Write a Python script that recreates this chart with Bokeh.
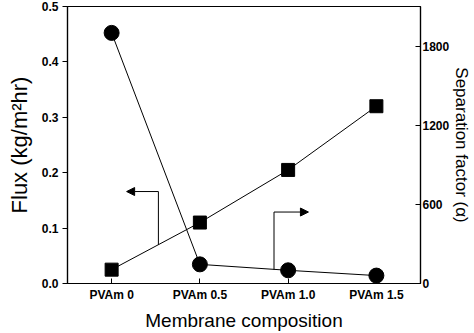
from bokeh.plotting import figure
from bokeh.models import (Range1d, LinearAxis, FixedTicker, Arrow, NormalHead,
                          NumeralTickFormatter)
from bokeh.embed import file_html
from bokeh.resources import INLINE

categories = ["PVAm 0", "PVAm 0.5", "PVAm 1.0", "PVAm 1.5"]
flux = [0.025, 0.11, 0.205, 0.32]
sep_factor = [1900, 145, 100, 60]
flux_ticks = [0.0, 0.1, 0.2, 0.3, 0.4, 0.5]
sep_ticks = [0, 600, 1200, 1800]

# annotation arrows (data coordinates: x in category index, y in flux units)
left_arrow = dict(x=0.53, y0=0.07, y1=0.166, tip=0.17)
right_arrow = dict(x=1.84, y0=0.025, y1=0.129, tip=2.23)

xs = list(range(len(categories)))
SEP_MAX = 2100.0
FONT = "Liberation Sans"

p = figure(width=474, height=333, output_backend="svg", toolbar_location=None,
           x_range=Range1d(-0.5, 3.5), y_range=Range1d(0, 0.5),
           min_border_left=67, min_border_right=53, min_border_top=6,
           min_border_bottom=50, y_axis_location="left")
p.extra_y_ranges = {"sep": Range1d(0, SEP_MAX)}
p.grid.visible = False
p.outline_line_color = "black"
p.outline_line_width = 1.2
p.background_fill_color = "white"
p.border_fill_color = "white"

# bottom axis
xa = p.xaxis[0]
xa.ticker = FixedTicker(ticks=xs)
xa.major_label_overrides = {i: c for i, c in enumerate(categories)}
xa.major_tick_in = 5
xa.major_tick_out = 0
xa.minor_tick_line_color = None
xa.axis_label = "Membrane composition"
xa.axis_label_text_font = FONT
xa.axis_label_text_font_style = "normal"
xa.axis_label_text_font_size = "19px"
xa.axis_label_standoff = 5
xa.major_label_text_font = FONT
xa.major_label_text_font_style = "bold"
xa.major_label_text_font_size = "12px"
xa.major_label_standoff = 4

# left axis
ya = p.yaxis[0]
ya.ticker = FixedTicker(ticks=flux_ticks)
ya.formatter = NumeralTickFormatter(format="0.0")
ya.major_tick_in = 0
ya.major_tick_out = 5
ya.minor_tick_line_color = None
ya.axis_label = "Flux (kg/m²hr)"
ya.axis_label_text_font = FONT
ya.axis_label_text_font_style = "normal"
ya.axis_label_text_font_size = "22px"
ya.axis_label_standoff = 7
ya.major_label_text_font = FONT
ya.major_label_text_font_style = "bold"
ya.major_label_text_font_size = "12px"
ya.major_label_standoff = 4

# right axis
ra = LinearAxis(y_range_name="sep", ticker=FixedTicker(ticks=sep_ticks))
ra.major_tick_in = 5
ra.major_tick_out = 0
ra.minor_tick_line_color = None
ra.axis_label = "Separation factor (α)"
ra.axis_label_text_font = FONT
ra.axis_label_text_font_style = "normal"
ra.axis_label_text_font_size = "17px"
ra.axis_label_standoff = 0
ra.major_label_text_font = FONT
ra.major_label_text_font_style = "bold"
ra.major_label_text_font_size = "12px"
ra.major_label_standoff = 2
p.add_layout(ra, "right")

for ax in (xa, ya, ra):
    ax.axis_line_color = "black"
    ax.axis_line_width = 1.2
    ax.major_tick_line_color = "black"
    ax.major_label_text_color = "black"
    ax.axis_label_text_color = "black"

# flux series (squares)
p.line(xs, flux, line_color="black", line_width=1)
p.scatter(xs, flux, marker="square", size=13, fill_color="black", line_color="black")

# separation factor series (circles)
p.line(xs, sep_factor, y_range_name="sep", line_color="black", line_width=1)
p.scatter(xs, sep_factor, y_range_name="sep", marker="circle", size=15,
          fill_color="black", line_color="black")

# arrows
for a in (left_arrow, right_arrow):
    p.segment(x0=[a["x"]], y0=[a["y0"]], x1=[a["x"]], y1=[a["y1"]],
              line_color="black", line_width=1)
    p.add_layout(Arrow(end=NormalHead(size=8, fill_color="black", line_color="black"),
                       x_start=a["x"], y_start=a["y1"], x_end=a["tip"], y_end=a["y1"],
                       line_color="black", line_width=1))

open("out.html", "w").write(file_html(p, INLINE))
